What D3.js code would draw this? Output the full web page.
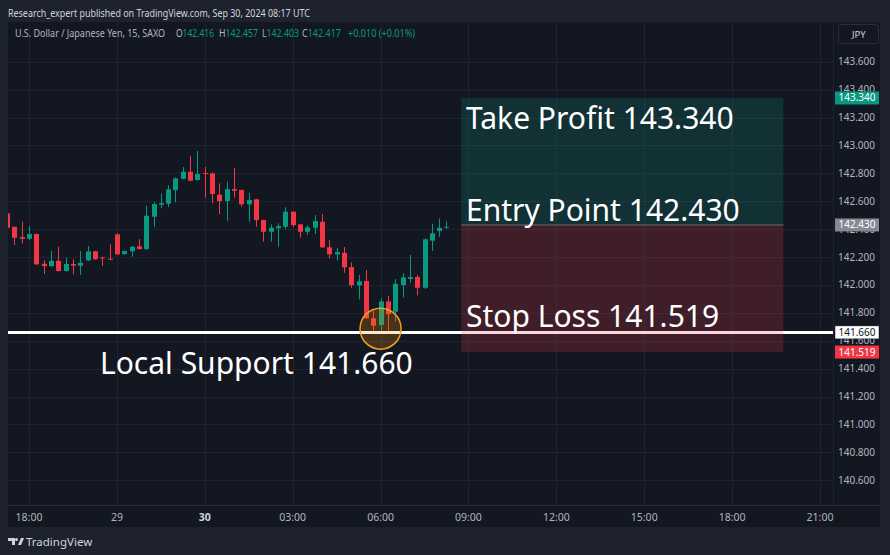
<!DOCTYPE html>
<html>
<head>
<meta charset="utf-8">
<script src="https://cdn.jsdelivr.net/npm/d3@7"></script>
<style>
  html, body { margin: 0; padding: 0; background: #1e222d; }
  svg { display: block; font-family: "Noto Sans", "Open Sans", sans-serif; }
</style>
</head>
<body>
<script>
// USDJPY 15m candles
var opens  = [142.513,142.417,142.343,142.331,142.365,142.152,142.135,142.173,142.100,142.150,
              142.138,142.176,142.241,142.198,142.188,142.363,142.221,142.241,142.277,142.257,
              142.489,142.575,142.582,142.680,142.761,142.811,142.752,142.802,142.800,142.647,
              142.601,142.687,142.680,142.578,142.614,142.465,142.381,142.406,142.417,142.525,
              142.434,142.381,142.410,142.453,142.270,142.219,142.231,142.128,141.997,142.028,
              141.761,141.713,141.882,141.808,141.999,142.044,142.057,141.980,142.317,142.386,
              142.416];
var highs  = [142.523,142.417,142.453,142.422,142.368,142.178,142.243,142.274,142.195,142.184,
              142.243,142.279,142.243,142.202,142.291,142.370,142.247,142.277,142.329,142.566,
              142.592,142.657,142.714,142.770,142.845,142.924,142.960,142.845,142.806,142.728,
              142.740,142.838,142.684,142.659,142.617,142.469,142.434,142.442,142.556,142.528,
              142.438,142.429,142.501,142.508,142.322,142.267,142.272,142.162,142.071,142.107,
              141.813,141.904,141.923,142.042,142.083,142.214,142.071,142.334,142.437,142.477,
              142.457];
var lows   = [142.401,142.286,142.298,142.322,142.143,142.078,142.132,142.095,142.096,142.076,
              142.071,142.171,142.180,142.135,142.178,142.214,142.218,142.202,142.254,142.250,
              142.413,142.549,142.558,142.592,142.758,142.743,142.748,142.625,142.585,142.508,
              142.460,142.625,142.561,142.453,142.417,142.310,142.310,142.274,142.401,142.417,
              142.338,142.358,142.365,142.266,142.191,142.173,142.087,141.980,141.897,141.757,
              141.653,141.653,141.653,141.736,141.911,142.016,141.925,141.971,142.243,142.346,
              142.403];
var closes = [142.410,142.338,142.331,142.365,142.148,142.135,142.173,142.100,142.150,142.138,
              142.159,142.241,142.184,142.191,142.181,142.219,142.243,142.274,142.257,142.496,
              142.580,142.587,142.685,142.764,142.811,142.747,142.795,142.797,142.652,142.601,
              142.687,142.675,142.578,142.609,142.465,142.381,142.410,142.422,142.525,142.429,
              142.381,142.413,142.458,142.270,142.219,142.236,142.126,141.999,142.026,141.761,
              141.708,141.882,141.791,142.009,142.054,142.057,141.980,142.327,142.370,142.410,
              142.417];

var priceTicks = [140.6,140.8,141.0,141.2,141.4,141.6,141.8,142.0,142.2,142.4,142.6,142.8,143.0,143.2,143.4,143.6];
var timeTicks  = [3,15,27,39,51,63,75,87,99,111];
var timeLabels = ['18:00','29','30','03:00','06:00','09:00','12:00','15:00','18:00','21:00'];

var takeProfit = 143.340, entry = 142.430, stopLoss = 141.519, support = 141.660;
var posStart = 62, posEnd = 106;
var markBar = 51, markPrice = 141.687;

var W = 890, H = 555;
var pane = {left: 8, right: 880, top: 22, bottom: 527};
var plotRight = 833, plotBottom = 505;

var green = '#089981', red = '#f23645', text = '#b2b5be', grid = '#1f2330';

var x = d3.scaleLinear().domain([3, 111]).range([29, 820]);
var y = d3.scaleLinear().domain([140.6, 143.6]).range([480.3, 61.7]);

var svg = d3.select('body').append('svg').attr('width', W).attr('height', H);

svg.append('rect').attr('width', W).attr('height', H).attr('fill', '#1e222d');
svg.append('rect').attr('x', pane.left).attr('y', pane.top)
  .attr('width', pane.right - pane.left).attr('height', pane.bottom - pane.top).attr('fill', '#131722');

svg.append('defs').append('clipPath').attr('id', 'plot').append('rect')
  .attr('x', pane.left).attr('y', pane.top)
  .attr('width', plotRight - pane.left).attr('height', plotBottom - pane.top);

// header
svg.append('text').attr('x', 8).attr('y', 17).attr('fill', '#d1d4dc').style('font-size', '10.5px')
  .attr('textLength', 302).attr('lengthAdjust', 'spacingAndGlyphs')
  .text('Research_expert published on TradingView.com, Sep 30, 2024 08:17 UTC');

// grid
var g = svg.append('g');
g.selectAll('.vg').data(timeTicks).enter().append('line')
  .attr('x1', function(d) { return Math.round(x(d)) + 0.5; }).attr('x2', function(d) { return Math.round(x(d)) + 0.5; })
  .attr('y1', pane.top).attr('y2', plotBottom).attr('stroke', grid);
g.selectAll('.hg').data(priceTicks).enter().append('line')
  .attr('x1', pane.left).attr('x2', plotRight)
  .attr('y1', function(d) { return Math.round(y(d)) + 0.5; }).attr('y2', function(d) { return Math.round(y(d)) + 0.5; })
  .attr('stroke', grid);

// axis separators
svg.append('line').attr('x1', pane.left).attr('x2', pane.right).attr('y1', plotBottom + 0.5).attr('y2', plotBottom + 0.5).attr('stroke', '#2a2e39');
svg.append('line').attr('x1', plotRight + 0.5).attr('x2', plotRight + 0.5).attr('y1', pane.top).attr('y2', plotBottom).attr('stroke', '#1f2330');

// legend line: symbol, then O/H/L/C pairs
var legend = [
  {k: '', v: 'U.S. Dollar / Japanese Yen, 15, SAXO', x: 15, w: 150, c: text},
  {k: 'O', v: '142.416', x: 176, w: 38, c: green},
  {k: 'H', v: '142.457', x: 219, w: 39, c: green},
  {k: 'L', v: '142.403', x: 262, w: 37, c: green},
  {k: 'C', v: '142.417', x: 302, w: 39, c: green},
  {k: '', v: '+0.010 (+0.01%)', x: 348, w: 67, c: green}
];
var lt = svg.selectAll('.leg').data(legend).enter().append('text')
  .attr('x', function(d) { return d.x; }).attr('y', 37).style('font-size', '10px')
  .attr('textLength', function(d) { return d.w; }).attr('lengthAdjust', 'spacingAndGlyphs');
lt.append('tspan').attr('fill', text).text(function(d) { return d.k; });
lt.append('tspan').attr('fill', function(d) { return d.c; }).text(function(d) { return d.v; });

// candles
var bars = d3.range(opens.length).map(function(i) {
  return {i: i, o: opens[i], h: highs[i], l: lows[i], c: closes[i]};
});
var cg = svg.append('g').attr('clip-path', 'url(#plot)');
cg.selectAll('.wick').data(bars).enter().append('line')
  .attr('x1', function(d) { return Math.round(x(d.i)) + 0.5; })
  .attr('x2', function(d) { return Math.round(x(d.i)) + 0.5; })
  .attr('y1', function(d) { return y(d.h); }).attr('y2', function(d) { return y(d.l); })
  .attr('stroke', function(d) { return d.c >= d.o ? green : red; }).attr('stroke-width', 1);
cg.selectAll('.body').data(bars).enter().append('rect')
  .attr('x', function(d) { return Math.round(x(d.i)) - 2; }).attr('width', 5)
  .attr('y', function(d) { return y(Math.max(d.o, d.c)); })
  .attr('height', function(d) { return Math.max(1, Math.abs(y(d.o) - y(d.c))); })
  .attr('fill', function(d) { return d.c >= d.o ? green : red; });

// local support line
svg.append('line').attr('x1', pane.left).attr('x2', plotRight)
  .attr('y1', y(support)).attr('y2', y(support)).attr('stroke', '#ffffff').attr('stroke-width', 3);

// marker circle on the low
svg.append('circle').attr('cx', x(markBar)).attr('cy', y(markPrice)).attr('r', 20.5)
  .attr('fill', 'rgba(255,152,0,0.22)').attr('stroke', '#f0a020').attr('stroke-width', 1.5);

// long position box
svg.append('rect').attr('x', x(posStart)).attr('width', x(posEnd) - x(posStart))
  .attr('y', y(takeProfit)).attr('height', y(entry) - y(takeProfit)).attr('fill', 'rgba(8,153,129,0.2)');
svg.append('rect').attr('x', x(posStart)).attr('width', x(posEnd) - x(posStart))
  .attr('y', y(entry)).attr('height', y(stopLoss) - y(entry)).attr('fill', 'rgba(242,54,69,0.2)');
svg.append('line').attr('x1', x(posStart)).attr('x2', x(posEnd)).attr('y1', y(entry)).attr('y2', y(entry))
  .attr('stroke', '#6a6d78').attr('stroke-width', 1);

// annotations
var big = [
  {t: 'Take Profit 143.340', x: 466, y: 129},
  {t: 'Entry Point 142.430', x: 466, y: 221},
  {t: 'Stop Loss 141.519', x: 466, y: 327},
  {t: 'Local Support 141.660', x: 100, y: 374}
];
svg.selectAll('.big').data(big).enter().append('text')
  .attr('x', function(d) { return d.x; }).attr('y', function(d) { return d.y; })
  .attr('fill', '#ffffff').style('font-size', '30px').text(function(d) { return d.t; });

// price axis labels
svg.selectAll('.pt').data(priceTicks).enter().append('text')
  .attr('x', 875).attr('y', function(d) { return y(d) + 3.5; }).attr('text-anchor', 'end')
  .attr('fill', text).style('font-size', '10px').text(function(d) { return d3.format('.3f')(d); });

var tags = [
  {v: takeProfit, bg: green, fg: '#ffffff', stroke: 'none'},
  {v: entry, bg: '#868993', fg: '#ffffff', stroke: 'none'},
  {v: support, bg: '#ffffff', fg: '#131722', stroke: '#131722'},
  {v: stopLoss, bg: red, fg: '#ffffff', stroke: 'none'}
];
var tg = svg.selectAll('.tag').data(tags).enter().append('g');
tg.append('rect').attr('x', 835).attr('width', 44)
  .attr('y', function(d) { return y(d.v) - 6.5; }).attr('height', 13)
  .attr('fill', function(d) { return d.bg; }).attr('stroke', function(d) { return d.stroke; }).attr('stroke-width', 0.5);
tg.append('text').attr('x', 857).attr('text-anchor', 'middle')
  .attr('y', function(d) { return y(d.v) + 3.5; }).attr('fill', function(d) { return d.fg; })
  .style('font-size', '10px').text(function(d) { return d3.format('.3f')(d.v); });

// currency button
svg.append('rect').attr('x', 838.5).attr('y', 24.5).attr('width', 40).attr('height', 19).attr('rx', 3)
  .attr('fill', '#131722').attr('stroke', '#2a2e39');
svg.append('text').attr('x', 852).attr('y', 38).attr('fill', '#d1d4dc').style('font-size', '9.5px').text('JPY');

// time axis
svg.selectAll('.tt').data(timeTicks).enter().append('text')
  .attr('x', function(d) { return x(d); }).attr('y', 521).attr('text-anchor', 'middle')
  .style('font-size', '10.5px')
  .style('font-weight', function(d, i) { return timeLabels[i] === '30' ? 'bold' : 'normal'; })
  .attr('fill', function(d, i) { return timeLabels[i] === '30' ? '#d1d4dc' : text; })
  .text(function(d, i) { return timeLabels[i]; });

// footer logo
var logo = svg.append('g').attr('fill', '#d1d4dc');
logo.append('path').attr('d', 'M8,538h7v7h-3v-4h-4z');
logo.append('circle').attr('cx', 16.5).attr('cy', 539.5).attr('r', 1.5);
logo.append('path').attr('d', 'M18,545l3,-7h3l-3,7z');
svg.append('text').attr('x', 26).attr('y', 546).attr('fill', '#d1d4dc').style('font-size', '11.5px').text('TradingView');
</script>
</body>
</html>
